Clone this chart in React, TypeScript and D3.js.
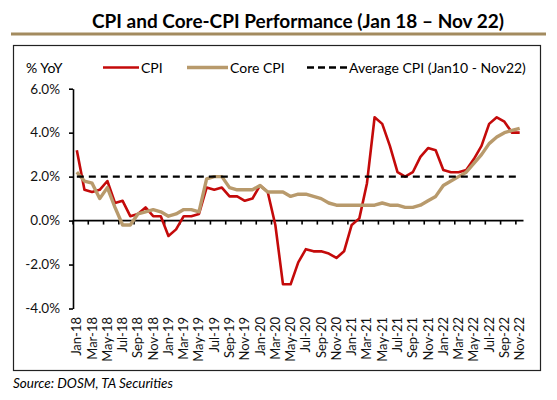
import { useEffect, useRef } from 'react';
import * as d3 from 'd3';

// Monthly categories Jan-18 .. Nov-22
const monthNames = ['Jan', 'Feb', 'Mar', 'Apr', 'May', 'Jun', 'Jul', 'Aug', 'Sep', 'Oct', 'Nov', 'Dec'];
const years = ['18', '19', '20', '21', '22'];
const months: string[] = years
  .flatMap(yr => monthNames.map(m => `${m}-${yr}`))
  .slice(0, 59);

const tickLabels = [
  'Jan-18', 'Mar-18', 'May-18', 'Jul-18', 'Sep-18', 'Nov-18',
  'Jan-19', 'Mar-19', 'May-19', 'Jul-19', 'Sep-19', 'Nov-19',
  'Jan-20', 'Mar-20', 'May-20', 'Jul-20', 'Sep-20', 'Nov-20',
  'Jan-21', 'Mar-21', 'May-21', 'Jul-21', 'Sep-21', 'Nov-21',
  'Jan-22', 'Mar-22', 'May-22', 'Jul-22', 'Sep-22', 'Nov-22',
];

// % YoY
const cpi = [
  3.2, 1.4, 1.3, 1.4, 1.8, 0.8, 0.9, 0.2, 0.3, 0.6, 0.2, 0.2,
  -0.7, -0.4, 0.2, 0.2, 0.3, 1.5, 1.4, 1.5, 1.1, 1.1, 0.9, 1.0,
  1.6, 1.3, -0.2, -2.9, -2.9, -1.9, -1.3, -1.4, -1.4, -1.5, -1.7, -1.4,
  -0.2, 0.1, 1.7, 4.7, 4.4, 3.4, 2.2, 2.0, 2.2, 2.9, 3.3, 3.2,
  2.3, 2.2, 2.2, 2.3, 2.8, 3.4, 4.4, 4.7, 4.5, 4.0, 4.0,
];

const coreCpi = [
  2.2, 1.8, 1.7, 1.0, 1.5, 0.6, -0.2, -0.2, 0.3, 0.4, 0.5, 0.4,
  0.2, 0.3, 0.5, 0.5, 0.4, 1.9, 2.0, 2.0, 1.5, 1.4, 1.4, 1.4,
  1.6, 1.3, 1.3, 1.3, 1.1, 1.2, 1.2, 1.1, 1.0, 0.8, 0.7, 0.7,
  0.7, 0.7, 0.7, 0.7, 0.8, 0.7, 0.7, 0.6, 0.6, 0.7, 0.9, 1.1,
  1.6, 1.8, 2.0, 2.2, 2.6, 3.0, 3.5, 3.8, 4.0, 4.1, 4.2,
];

const averageCpi = 2.0;
const yTicks = [-4, -2, 0, 2, 4, 6];

const FONT = 'Lato, "Open Sans", sans-serif';
const RED = '#c40a0a';
const GOLD = '#b89a6c';

const App = () => {
  const chartRef = useRef<SVGSVGElement>(null);

  useEffect(() => {
    if (!chartRef.current) return;
    const svg = d3.select(chartRef.current);
    svg.selectAll('*').remove();

    svg.append('rect').attr('width', 557).attr('height', 400).attr('fill', 'white');

    // Title + rule
    svg.append('text')
      .attr('x', 298)
      .attr('y', 28)
      .attr('text-anchor', 'middle')
      .style('font-family', FONT)
      .style('font-weight', 'bold')
      .style('font-size', '19px')
      .text('CPI and Core-CPI Performance (Jan 18 – Nov 22)');

    svg.append('line')
      .attr('x1', 11).attr('x2', 546)
      .attr('y1', 34).attr('y2', 34)
      .style('stroke', '#a38b5f')
      .style('stroke-width', 3);

    // Frame
    svg.append('rect')
      .attr('x', 13.5).attr('y', 45.5)
      .attr('width', 527).attr('height', 325)
      .style('fill', 'none')
      .style('stroke', '#222')
      .style('stroke-width', 1.2);

    // Scales
    const x = d3.scaleBand<string>().domain(months).range([73, 523.5]);
    const cx = (i: number) => (x(months[i]) ?? 0) + x.bandwidth() / 2;
    const y = d3.scaleLinear().domain([-4, 6]).range([308.5, 88.7]);

    // Y axis
    const yAxis = svg.append('g')
      .attr('transform', 'translate(73,0)')
      .call(
        d3.axisLeft(y)
          .tickValues(yTicks)
          .tickSize(4)
          .tickSizeOuter(0)
          .tickPadding(9)
          .tickFormat(d => `${(+d).toFixed(1)}%`)
      );
    yAxis.select('.domain').style('stroke', '#000').style('stroke-width', 1.6);
    yAxis.selectAll('.tick line').style('stroke', '#000').style('stroke-width', 1.6);
    yAxis.selectAll('.tick text')
      .style('font-family', FONT)
      .style('font-size', '13.5px')
      .style('fill', '#111');

    // X axis at zero
    const y0 = y(0);
    svg.append('line')
      .attr('x1', 73).attr('x2', 523.5)
      .attr('y1', y0).attr('y2', y0)
      .style('stroke', '#000')
      .style('stroke-width', 1.6);

    svg.selectAll('.x-tick')
      .data(months.filter((_, i) => i % 2 === 0))
      .enter()
      .append('line')
      .attr('class', 'x-tick')
      .attr('x1', d => x(d) ?? 0)
      .attr('x2', d => x(d) ?? 0)
      .attr('y1', y0)
      .attr('y2', y0 + 4)
      .style('stroke', '#000')
      .style('stroke-width', 1.6);

    svg.selectAll('.x-label')
      .data(tickLabels)
      .enter()
      .append('text')
      .attr('class', 'x-label')
      .attr('transform', d => `translate(${(x(d) ?? 0) + x.bandwidth() / 2 + 4.5},317) rotate(-90)`)
      .attr('text-anchor', 'end')
      .style('font-family', FONT)
      .style('font-size', '13px')
      .style('fill', '#111')
      .text(d => d);

    // Lines
    const line = d3.line<number>()
      .x((_, i) => cx(i))
      .y(d => y(d));

    svg.append('path')
      .datum(cpi)
      .attr('d', line)
      .style('fill', 'none')
      .style('stroke', RED)
      .style('stroke-width', 2.6)
      .style('stroke-linejoin', 'round');

    svg.append('path')
      .datum(coreCpi)
      .attr('d', line)
      .style('fill', 'none')
      .style('stroke', GOLD)
      .style('stroke-width', 3.4)
      .style('stroke-linejoin', 'round');

    svg.append('line')
      .attr('x1', cx(0)).attr('x2', cx(months.length - 1))
      .attr('y1', y(averageCpi)).attr('y2', y(averageCpi))
      .style('stroke', '#000')
      .style('stroke-width', 2.4)
      .style('stroke-dasharray', '7,5');

    // Legend
    const legendY = 67.5;
    svg.append('text')
      .attr('x', 26).attr('y', legendY + 5)
      .style('font-family', FONT)
      .style('font-size', '14px')
      .text('% YoY');

    const legendItems = [
      { label: 'CPI', x1: 103, x2: 139, color: RED, width: 2.6, dash: null },
      { label: 'Core CPI', x1: 187, x2: 228, color: GOLD, width: 3.4, dash: null },
      { label: 'Average CPI (Jan10 - Nov22)', x1: 307, x2: 347, color: '#000', width: 2.4, dash: '7,4' },
    ];
    const items = svg.selectAll('.legend-item')
      .data(legendItems)
      .enter()
      .append('g')
      .attr('class', 'legend-item');
    items.append('line')
      .attr('x1', d => d.x1).attr('x2', d => d.x2)
      .attr('y1', legendY).attr('y2', legendY)
      .style('stroke', d => d.color)
      .style('stroke-width', d => d.width)
      .style('stroke-dasharray', d => d.dash ?? 'none');
    items.append('text')
      .attr('x', d => d.x2 + 2)
      .attr('y', legendY + 5)
      .style('font-family', FONT)
      .style('font-size', '14px')
      .text(d => d.label);

    // Source
    svg.append('text')
      .attr('x', 13).attr('y', 388)
      .style('font-family', FONT)
      .style('font-style', 'italic')
      .style('font-size', '13.5px')
      .text('Source: DOSM, TA Securities');
  }, []);

  return (
    <svg
      ref={chartRef}
      width={557}
      height={400}
      style={{ position: 'absolute', left: 0, top: 0 }}
    />
  );
};

export default App;
